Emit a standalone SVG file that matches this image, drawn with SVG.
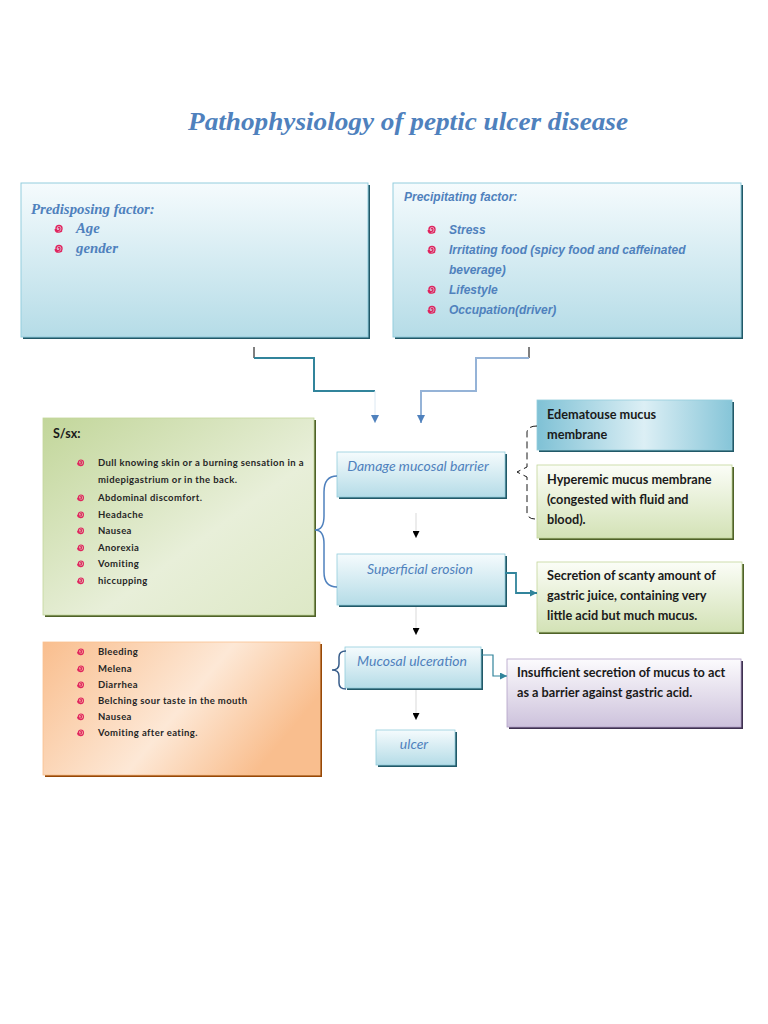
<svg xmlns="http://www.w3.org/2000/svg" width="768" height="1024" viewBox="0 0 768 1024">
<defs>
<linearGradient id="gBlue" x1="0" y1="0" x2="0" y2="1"><stop offset="0" stop-color="#F5FBFD"/><stop offset="1" stop-color="#B5DCE7"/></linearGradient>
<linearGradient id="gEdem" x1="0" y1="0" x2="1" y2="0"><stop offset="0" stop-color="#7FC1D5"/><stop offset="0.55" stop-color="#DCEFF5"/><stop offset="1" stop-color="#86C5D8"/></linearGradient>
<linearGradient id="gGreenBig" x1="0" y1="0" x2="1" y2="1"><stop offset="0" stop-color="#C2D69A"/><stop offset="0.6" stop-color="#E8EFD9"/><stop offset="1" stop-color="#DDE8C6"/></linearGradient>
<linearGradient id="gGreen" x1="0" y1="0" x2="0" y2="1"><stop offset="0" stop-color="#FBFDF7"/><stop offset="1" stop-color="#D3E2B6"/></linearGradient>
<linearGradient id="gOrange" x1="0" y1="0" x2="1" y2="0.4"><stop offset="0" stop-color="#F9BE8E"/><stop offset="0.6" stop-color="#FDE8D6"/><stop offset="1" stop-color="#F9BE8E"/></linearGradient>
<linearGradient id="gPurple" x1="0" y1="0" x2="0" y2="1"><stop offset="0" stop-color="#FCFBFD"/><stop offset="1" stop-color="#CDC2DC"/></linearGradient>
<marker id="aBlue" viewBox="0 0 10 10" refX="10" refY="5" markerWidth="8" markerHeight="8" orient="auto" markerUnits="userSpaceOnUse"><path d="M0,0 L10,5 L0,10 z" fill="#4F81BD"/></marker>
<marker id="aTeal" viewBox="0 0 10 10" refX="10" refY="5" markerWidth="7" markerHeight="7" orient="auto" markerUnits="userSpaceOnUse"><path d="M0,0 L10,5 L0,10 z" fill="#31849B"/></marker>
<marker id="aBlack" viewBox="0 0 10 10" refX="10" refY="5" markerWidth="7" markerHeight="7" orient="auto" markerUnits="userSpaceOnUse"><path d="M0,0 L10,5 L0,10 z" fill="#000"/></marker>
<path id="bul" d="M0,0.5 a1,1 0 0,1 2,0 a2,2 0 0,1 -4,0 a3,3 0 0,1 6,0 a3.4,3.4 0 0,1 -6.8,0.4 M3,2.8 l0.8,0.9" fill="none" stroke="#E0245E" stroke-width="1.4"/>
<path id="bs" d="M0,0.5 a0.8,0.8 0 0,1 1.6,0 a1.6,1.6 0 0,1 -3.2,0 a2.5,2.5 0 0,1 5,0 a2.9,2.9 0 0,1 -5.8,0.3" fill="none" stroke="#E0245E" stroke-width="1.2"/>
<style>
.title{font-family:"Liberation Serif",serif;font-weight:bold;font-style:italic;font-size:26px;fill:#4F81BD;}
.ser{font-family:"Liberation Serif",serif;font-weight:bold;font-style:italic;font-size:14.8px;fill:#4F81BD;}
.bi{font-family:"Liberation Sans",Arial,sans-serif;font-weight:bold;font-style:italic;font-size:12px;fill:#4F81BD;}
.lab{font-family:Lato,"Liberation Sans",sans-serif;font-style:italic;font-size:14px;fill:#4F81BD;}
.body{font-family:Lato,"Liberation Sans",sans-serif;font-weight:bold;font-size:12.7px;fill:#1A1A1A;}
.sm{font-family:Lato,"Liberation Sans",sans-serif;font-weight:bold;font-size:9.5px;letter-spacing:0.4px;fill:#262626;}
.hd{font-family:Lato,"Liberation Sans",sans-serif;font-weight:bold;font-size:12.5px;fill:#1A1A1A;}
.shB{fill:#215968;}
.shG{fill:#4F6228;}
.shO{fill:#974806;}
.shP{fill:#3F3151;}
</style>
</defs>
<rect width="768" height="1024" fill="#FFFFFF"/>
<text class="title" x="408" y="130" text-anchor="middle" textLength="440" lengthAdjust="spacingAndGlyphs">Pathophysiology of peptic ulcer disease</text>

<g id="predisposing">
<rect class="shB" x="23" y="185" width="347" height="154"/>
<rect x="21" y="183" width="347" height="154" fill="url(#gBlue)" stroke="#93CDDD" stroke-width="1"/>
<text class="ser" x="31" y="214">Predisposing factor:</text>
<use href="#bul" x="58" y="228"/>
<text class="ser" x="76" y="233">Age</text>
<use href="#bul" x="58" y="248"/>
<text class="ser" x="76" y="253">gender</text>
</g>

<g id="precipitating">
<rect class="shB" x="395" y="185" width="348" height="154"/>
<rect x="393" y="183" width="348" height="154" fill="url(#gBlue)" stroke="#93CDDD" stroke-width="1"/>
<text class="bi" x="404" y="201">Precipitating factor:</text>
<use href="#bul" x="431" y="229"/>
<text class="bi" x="449" y="234">Stress</text>
<use href="#bul" x="431" y="249"/>
<text class="bi" x="449" y="254">Irritating food (spicy food and caffeinated</text>
<text class="bi" x="449" y="274">beverage)</text>
<use href="#bul" x="431" y="289"/>
<text class="bi" x="449" y="294">Lifestyle</text>
<use href="#bul" x="431" y="309"/>
<text class="bi" x="449" y="314">Occupation(driver)</text>
</g>

<g id="ssx">
<rect class="shG" x="45" y="420" width="271" height="197"/>
<rect x="43" y="418" width="271" height="197" fill="url(#gGreenBig)" stroke="#C3D69B" stroke-width="0.8"/>
<text class="hd" x="53" y="438">S/sx:</text>
<use href="#bs" x="80" y="462"/>
<text class="sm" x="98" y="466">Dull knowing skin or a burning sensation in a</text>
<text class="sm" x="98" y="483">midepigastrium or in the back.</text>
<use href="#bs" x="80" y="497"/>
<text class="sm" x="98" y="501">Abdominal discomfort.</text>
<use href="#bs" x="80" y="514"/>
<text class="sm" x="98" y="518">Headache</text>
<use href="#bs" x="80" y="530"/>
<text class="sm" x="98" y="534">Nausea</text>
<use href="#bs" x="80" y="547"/>
<text class="sm" x="98" y="551">Anorexia</text>
<use href="#bs" x="80" y="563"/>
<text class="sm" x="98" y="567">Vomiting</text>
<use href="#bs" x="80" y="580"/>
<text class="sm" x="98" y="584">hiccupping</text>
</g>

<g id="complications">
<rect class="shO" x="45" y="644" width="277" height="133"/>
<rect x="43" y="642" width="277" height="133" fill="url(#gOrange)" stroke="#FAC090" stroke-width="0.8"/>
<use href="#bs" x="80" y="651"/>
<text class="sm" x="98" y="655">Bleeding</text>
<use href="#bs" x="80" y="668"/>
<text class="sm" x="98" y="672">Melena</text>
<use href="#bs" x="80" y="684"/>
<text class="sm" x="98" y="688">Diarrhea</text>
<use href="#bs" x="80" y="700"/>
<text class="sm" x="98" y="704">Belching sour taste in the mouth</text>
<use href="#bs" x="80" y="716"/>
<text class="sm" x="98" y="720">Nausea</text>
<use href="#bs" x="80" y="732"/>
<text class="sm" x="98" y="736">Vomiting after eating.</text>
</g>

<g id="damage">
<rect class="shB" x="339" y="454" width="168" height="45"/>
<rect x="337" y="452" width="168" height="45" fill="url(#gBlue)" stroke="#93CDDD" stroke-width="0.8"/>
<text class="lab" x="418" y="471" text-anchor="middle">Damage mucosal barrier</text>
</g>

<g id="erosion">
<rect class="shB" x="339" y="556" width="168" height="51"/>
<rect x="337" y="554" width="168" height="51" fill="url(#gBlue)" stroke="#93CDDD" stroke-width="0.8"/>
<text class="lab" x="420" y="574" text-anchor="middle">Superficial erosion</text>
</g>

<g id="ulceration">
<rect class="shB" x="347" y="649" width="136" height="41"/>
<rect x="345" y="647" width="136" height="41" fill="url(#gBlue)" stroke="#93CDDD" stroke-width="0.8"/>
<text class="lab" x="412" y="666" text-anchor="middle">Mucosal ulceration</text>
</g>

<g id="ulcer">
<rect class="shB" x="378" y="732" width="79" height="35"/>
<rect x="376" y="730" width="79" height="35" fill="url(#gBlue)" stroke="#93CDDD" stroke-width="0.8"/>
<text class="lab" x="414" y="749" text-anchor="middle">ulcer</text>
</g>

<g id="edematouse">
<rect class="shB" x="539" y="402" width="195" height="50"/>
<rect x="537" y="400" width="195" height="50" fill="url(#gEdem)" stroke="#93CDDD" stroke-width="0.8"/>
<text class="body" x="547" y="419">Edematouse mucus</text>
<text class="body" x="547" y="439">membrane</text>
</g>

<g id="hyperemic">
<rect class="shG" x="539" y="467" width="195" height="73"/>
<rect x="537" y="465" width="195" height="73" fill="url(#gGreen)" stroke="#C3D69B" stroke-width="0.8"/>
<text class="body" x="547" y="484">Hyperemic mucus membrane</text>
<text class="body" x="547" y="504">(congested with fluid and</text>
<text class="body" x="547" y="524">blood).</text>
</g>

<g id="secretion">
<rect class="shG" x="539" y="564" width="205" height="70"/>
<rect x="537" y="562" width="205" height="70" fill="url(#gGreen)" stroke="#C3D69B" stroke-width="0.8"/>
<text class="body" x="547" y="580">Secretion of scanty amount of</text>
<text class="body" x="547" y="600">gastric juice, containing very</text>
<text class="body" x="547" y="620">little acid but much mucus.</text>
</g>

<g id="insufficient">
<rect class="shP" x="509" y="661" width="234" height="68"/>
<rect x="507" y="659" width="234" height="68" fill="url(#gPurple)" stroke="#B2A1C7" stroke-width="0.8"/>
<text class="body" x="517" y="677">Insufficient secretion of mucus to act</text>
<text class="body" x="517" y="697">as a barrier against gastric acid.</text>
</g>

<g id="connectors" fill="none">
<path d="M254,347 V358" stroke="#000" stroke-width="1"/>
<path d="M254,358 H314 V391 H375" stroke="#31849B" stroke-width="2"/>
<path d="M375,391 V423" stroke="#DCE8F2" stroke-width="1" marker-end="url(#aBlue)"/>
<path d="M529,347 V358" stroke="#000" stroke-width="1"/>
<path d="M529,358 H476 V391 H421 V423" stroke="#95B3D7" stroke-width="2" marker-end="url(#aBlue)"/>
<path d="M416,513 V538" stroke="#D9D9D9" stroke-width="1" marker-end="url(#aBlack)"/>
<path d="M416,607 V635" stroke="#D9D9D9" stroke-width="1" marker-end="url(#aBlack)"/>
<path d="M416,690 V720" stroke="#D9D9D9" stroke-width="1" marker-end="url(#aBlack)"/>
<path d="M505,573 H516 V593 H537" stroke="#31849B" stroke-width="1.8" marker-end="url(#aTeal)"/>
<path d="M481,655 H493 V676 H507" stroke="#31849B" stroke-width="1.2" marker-end="url(#aTeal)"/>
<path d="M337,476 Q324,476 324,492 V516 Q324,530 315,530 Q324,530 324,544 V572 Q324,587 337,587" stroke="#4F81BD" stroke-width="1.5"/>
<path d="M346,651 Q339,651 339,657 V664 Q339,670 332,670 Q339,670 339,676 V683 Q339,689 346,689" stroke="#385D8A" stroke-width="1.5"/>
<path d="M537,426 Q528,426 527,432 V467 L517,472 L527,477 V513 Q528,519 535,519" stroke="#000" stroke-width="0.9" stroke-dasharray="7,4"/>
</g>
</svg>
